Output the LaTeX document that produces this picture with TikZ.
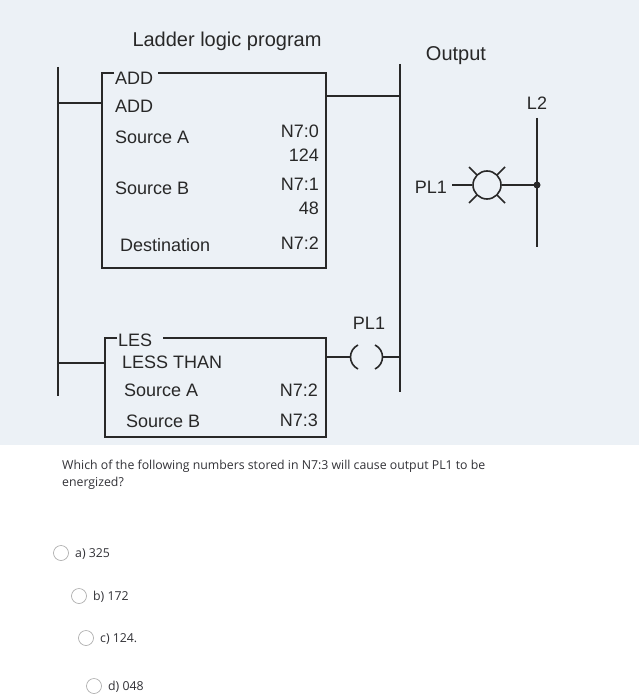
\documentclass[tikz,border=0pt]{standalone}
\usepackage{fontspec}
\setmainfont{Liberation Sans}
\newfontfamily\qfont{Open Sans}
\definecolor{bgb}{RGB}{236,241,246}
\definecolor{ink}{RGB}{40,40,40}
\definecolor{qink}{RGB}{50,50,55}
\begin{document}
\begin{tikzpicture}[x=1pt,y=-1pt,
  wire/.style={draw=ink,line width=1.6pt},
  lbl/.style={font=\fontsize{18}{20}\selectfont,text=ink,inner sep=0pt},
  qtxt/.style={font=\qfont\fontsize{12.3}{17}\selectfont,text=qink,inner sep=0pt},
  radio/.style={circle,draw=gray!70,line width=0.6pt,minimum size=15pt,inner sep=0pt}]
\useasboundingbox (0,0) rectangle (639,700);
\fill[white] (0,0) rectangle (639,700);
\fill[bgb] (0,0) rectangle (639,445);
% title
\node[lbl,font=\fontsize{20}{22}\selectfont] (title) at (227,41) {Ladder logic program};
\node[lbl,font=\fontsize{20}{22}\selectfont] (out) at (456,56) {Output};
% rails
\coordinate (lt) at (58,67); \coordinate (lb) at (58,396);
\coordinate (rt) at (400,64); \coordinate (rb) at (400,392);
\draw[wire] (lt) -- (lb);
\draw[wire] (rt) -- (rb);
% ADD box
\draw[wire] (114,73) -- (102,73) -- (102,268) -- (326,268) -- (326,73) -- (158,73);
\draw[wire] (58,103) -- (102,103);
\draw[wire] (326,96) -- (400,96);
\node[lbl,anchor=west] (addh) at (115,78) {ADD};
\node[lbl,anchor=west] (add) at (115,106) {ADD};
\node[lbl,anchor=west] (sa) at (115,137) {Source A};
\node[lbl,anchor=east] (n0) at (319,131) {N7:0};
\node[lbl,anchor=east] (v0) at (319,155) {124};
\node[lbl,anchor=west] (sb) at (115,188) {Source B};
\node[lbl,anchor=east] (n1) at (319,184) {N7:1};
\node[lbl,anchor=east] (v1) at (319,208) {48};
\node[lbl,anchor=west] (dst) at (120,245) {Destination};
\node[lbl,anchor=east] (n2) at (319,243) {N7:2};
% LES box
\draw[wire] (117,338) -- (105,338) -- (105,437) -- (326,437) -- (326,338) -- (163,338);
\draw[wire] (58,363) -- (105,363);
\node[lbl,anchor=west] (les) at (118,340) {LES};
\node[lbl,anchor=west] (lt2) at (122,362) {LESS THAN};
\node[lbl,anchor=west] (lsa) at (124,390) {Source A};
\node[lbl,anchor=east] (ln2) at (318,390) {N7:2};
\node[lbl,anchor=west] (lsb) at (126,421) {Source B};
\node[lbl,anchor=east] (ln3) at (318,420) {N7:3};
% coil
\draw[wire] (326,357) -- (350,357);
\draw[wire] (358,345) .. controls (348,350) and (348,364) .. (358,369);
\draw[wire] (375,345) .. controls (385,350) and (385,364) .. (375,369);
\draw[wire] (383,357) -- (400,357);
\node[lbl] (pl1c) at (369,323) {PL1};
% lamp
\node[circle,draw=ink,line width=1.6pt,minimum size=28pt,inner sep=0pt] (lamp) at (487,185) {};
\foreach \dx/\dy in {1/1,1/-1,-1/1,-1/-1}{\draw[wire] (lamp.center) ++(\dx*10,\dy*10) -- ++(\dx*8,\dy*8);}
\draw[wire] (452,185) -- (lamp.west);
\node[lbl,anchor=east] (pl1) at (447,187) {PL1};
\draw[wire] (537,118) -- (537,247);
\fill[ink] (537,185) circle (3.5);
\draw[wire] (lamp.east) -- (537,185);
\node[lbl] (l2) at (537,103) {L2};
% question
\node[qtxt,anchor=north west,align=left] (q) at (62,460) {Which of the following numbers stored in N7:3 will cause output PL1 to be\\energized?};
\node[radio] (ra) at (61,553) {}; \node[qtxt,anchor=west] (ta) at (75,554) {a) 325};
\node[radio] (rb2) at (79,596) {}; \node[qtxt,anchor=west] (tb) at (93,597) {b) 172};
\node[radio] (rc) at (86,638) {}; \node[qtxt,anchor=west] (tc) at (100,639) {c) 124.};
\node[radio] (rd) at (94,686) {}; \node[qtxt,anchor=west] (td) at (108,687) {d) 048};
\end{tikzpicture}
\end{document}
